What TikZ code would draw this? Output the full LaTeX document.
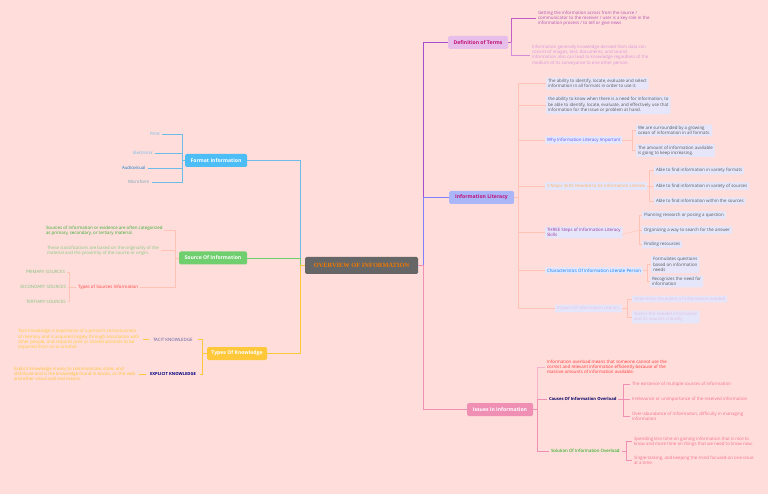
\documentclass[tikz,border=0pt]{standalone}
\usepackage{fontspec}
\setmainfont{Open Sans}
\newfontfamily\rootfont{Liberation Serif}
\definecolor{bgc}{HTML}{FFDDDA}
\definecolor{boxb}{HTML}{E6E6FA}
\definecolor{bluec}{HTML}{6DBDEB}
\definecolor{fmtc}{HTML}{4DBDF5}
\definecolor{greenc}{HTML}{6FCF6F}
\definecolor{yellowc}{HTML}{FFC83A}
\definecolor{purpc}{HTML}{C45CC8}
\definecolor{pinkc}{HTML}{F08FB4}
\definecolor{peach}{HTML}{FFC2B4}
\definecolor{crim}{HTML}{C01078}
\definecolor{litc}{HTML}{AAB6F8}
\tikzset{
 every picture/.style={x=1pt,y=-1pt},
 txt/.style={anchor=west,inner sep=0pt,outer xsep=2pt,align=left,font=\fontsize{4.4}{5.3}\selectfont},
 bx/.style={txt,fill=boxb,inner xsep=2pt,inner ysep=1.6pt,outer xsep=0pt,rounded corners=1pt},
 main/.style={anchor=center,rounded corners=1.5pt,inner sep=0pt,font=\fontsize{5.1}{6}\selectfont\bfseries,minimum height=13pt},
 thick1/.style={line width=0.8pt},
 thin1/.style={line width=0.4pt,draw=peach}
}
\begin{document}
\begin{tikzpicture}
\useasboundingbox[fill=bgc] (0,0) rectangle (768,494);
% root
\node[main,fill=black!60,text=orange!95!black,minimum width=113pt,minimum height=17pt,font=\fontsize{6.4}{7}\selectfont\rootfont\bfseries] (root) at (361.5,265.5) {OVERVIEW OF INFORMATION};
% main topics
\node[main,fill=fmtc,text=white,minimum width=62pt] (fmt) at (216,160.5) {Format Information};
\node[main,fill=greenc,text=white,minimum width=68pt] (src) at (213,258) {Source Of Information};
\node[main,fill=yellowc,text=white,minimum width=60pt] (know) at (237,353.5) {Types Of Knowledge};
\node[main,fill=purpc!40!white,text=crim,minimum width=60pt] (def) at (478,42.5) {Definition of Terms};
\node[main,fill=litc,text=crim,minimum width=65pt] (lit) at (481.5,197.5) {Information Literacy};
\node[main,fill=pinkc,text=white,minimum width=66pt] (iss) at (500,409.5) {Issues in Information};
% root connectors
\coordinate (rl) at (300,265.5);
\coordinate (rr) at (423,265.5);
\draw[thick1,draw=bluec] (rl) |- (fmt.east);
\draw[thick1,draw=greenc] (rl) |- (src.east);
\draw[thick1,draw=yellowc] (rl) |- (know.east);
\draw[thick1,draw=purpc!85!blue] (rr) |- (def.west);
\draw[thick1,draw=blue!50!white] (rr) |- (lit.west);
\draw[thick1,draw=pinkc] (rr) |- (iss.west);
\draw[thick1,draw=yellowc] (root.west) -- (rl);
\draw[thick1,draw=pinkc] (root.east) -- (rr);
% Format
\node[txt,text=bluec] (f1) at (148,134) {Print};
\node[txt,text=bluec] (f2) at (131,153) {Electronic};
\node[txt,text=cyan!60!blue] (f3) at (120,168) {Audiovisual};
\node[txt,text=bluec!60!gray] (f4) at (126,182) {Microform};
\coordinate (fb) at (182,160.5);
\draw[thick1,draw=bluec] (fmt.west) -- (fb);
\foreach \n in {f1,f2,f3,f4} \draw[thick1,draw=bluec] (fb) |- (\n.east);
% Source
\node[txt,text=green!60!black!80!white] (s1) at (44,230.5) {Sources of information or evidence are often categorized\\as primary, secondary, or tertiary material.};
\node[txt,text=green!40!gray!70!white] (s2) at (45,250.5) {These classifications are based on the originality of the\\material and the proximity of the source or origin.};
\node[txt,text=red!75!white] (s3) at (76,287) {Types of Sources Information};
\coordinate (sb) at (175,258);
\draw[thin1] (src.west) -- (sb);
\foreach \n in {s1,s2,s3} \draw[thin1] (sb) |- (\n.east);
\node[txt,text=green!35!gray!75!white] (p1) at (24,272) {PRIMARY SOURCES};
\node[txt,text=green!35!gray!75!white] (p2) at (18,287) {SECONDARY SOURCES};
\node[txt,text=green!35!gray!75!white] (p3) at (24,301.5) {TERTIARY SOURCES};
\coordinate (tb) at (69,287);
\draw[thin1] (s3.west) -- (tb);
\foreach \n in {p1,p2,p3} \draw[thin1] (tb) |- (\n.east);
% Knowledge
\node[txt,text=blue!30!gray] (k1) at (151,339.5) {TACIT KNOWLEDGE};
\node[txt,text=blue!50!black,font=\fontsize{4.2}{5.3}\selectfont\bfseries] (k2) at (148,374) {EXPLICIT KNOWLEDGE};
\coordinate (kb) at (202,353.5);
\draw[thick1,draw=yellowc] (know.west) -- (kb);
\draw[thick1,draw=yellowc] (kb) |- ([xshift=4pt]k1.east);
\draw[thick1,draw=yellowc] (kb) |- ([xshift=2pt]k2.east);
\node[txt,text=yellowc] (k1t) at (16,339.5) {Tacit knowledge is experience of a person's consciousness\\of memory and is acquired largely through association with\\other people, and requires joint or shared activities to be\\imparted from on to another.};
\node[txt,text=yellowc!90!orange] (k2t) at (12,374) {Explicit knowledge is easy to communicate, store, and\\distribute and is the knowledge found in books, on the web\\and other visual and oral means.};
\draw[thick1,draw=yellowc] ([xshift=2pt]k1t.east) -- ([xshift=-2pt]k1.west);
\draw[thick1,draw=yellowc] ([xshift=2pt]k2t.east) -- ([xshift=-2pt]k2.west);
% Definition
\node[txt,text=purpc!90!black] (d1) at (536,18.5) {Getting the information across from the source /\\communicator to the receiver / user is a key role in the\\information process / to tell or give news};
\node[txt,text=purpc!65!white] (d2) at (530,55) {Information generally knowledge derived from data can\\consist of images, text, documents, and sound.\\Information also can lead to knowledge regardless of the\\medium of its conveyance to one other person.};
\coordinate (db) at (511,42.5);
\draw[thick1,draw=purpc] (def.east) -- (db);
\draw[thick1,draw=purpc] (db) |- (d1.west);
\draw[thick1,draw=purpc!70!white] (db) |- (d2.west);
% Literacy
\node[bx,text=black!65] (l1) at (546,83.5) {The ability to identify, locate, evaluate and select\\information in all formats in order to use it.};
\node[bx,text=black!65] (l2) at (546,105) {the ability to know when there is a need for information, to\\be able to identify, locate, evaluate, and effectively use that\\information for the issue or problem at hand.};
\node[bx,text=blue!65!white] (l3) at (545,140) {Why Information Literacy Important};
\node[bx,text=orange!60!white] (l4) at (545,186) {3 Major Skills Needed to be Information Literate};
\node[bx,text=violet!80!white] (l5) at (545,232.5) {THREE Steps of Information Literacy\\Skills};
\node[bx,text=blue!50!cyan,fill=boxb] (l6) at (545,270.5) {Characteristics Of Information Literate Person};
\node[bx,text=violet!25!white] (l7) at (555,308.5) {Impact Of Information Literacy};
\coordinate (lb) at (518,197.5);
\draw[thin1] (lit.east) -- (lb);
\foreach \n in {l1,l2,l3,l4,l5,l6,l7} \draw[thin1] (lb) |- (\n.west);
% why
\node[bx,text=black!65] (a1) at (636,130.5) {We are surrounded by a growing\\ocean of information in all formats.};
\node[bx,text=black!65] (a2) at (636,150.5) {The amount of information available\\is going to keep increasing.};
\coordinate (ab) at (632,140);
\draw[thin1] (l3.east) -- (ab);
\foreach \n in {a1,a2} \draw[thin1] (ab) |- (\n.west);
% skills
\node[bx,text=black!65] (b1) at (654,170.5) {Able to find information in variety formats};
\node[bx,text=black!65] (b2) at (654,186) {Able to find information in variety of sources};
\node[bx,text=black!65] (b3) at (654,201) {Able to find information within the sources};
\coordinate (bb) at (649,186);
\draw[thin1] (l4.east) -- (bb);
\foreach \n in {b1,b2,b3} \draw[thin1] (bb) |- (\n.west);
% steps
\node[bx,text=black!65] (c1) at (642,215) {Planning research or posing a question};
\node[bx,text=black!65] (c2) at (642,230) {Organizing a way to search for the answer};
\node[bx,text=black!65] (c3) at (642,244.5) {Finding resources};
\coordinate (cb) at (639,230);
\draw[thin1] ([yshift=-2pt]l5.east) -- (cb);
\foreach \n in {c1,c2,c3} \draw[thin1] (cb) |- (\n.west);
% characteristics
\node[bx,text=black!65] (e1) at (651,264.5) {Formulates questions\\based on information\\needs};
\node[bx,text=black!65] (e2) at (650,281.5) {Recognizes the need for\\information};
\coordinate (eb) at (647,270.5);
\draw[thin1] (l6.east) -- (eb);
\foreach \n in {e1,e2} \draw[thin1] (eb) |- (\n.west);
% impact
\node[bx,text=violet!25!white] (g1) at (632,299) {Determine the extent of information needed};
\node[bx,text=violet!25!white] (g2) at (632,317) {Access the needed information\\and its sources critically};
\coordinate (gb) at (627,308.5);
\draw[thin1] (l7.east) -- (gb);
\foreach \n in {g1,g2} \draw[thin1] (gb) |- (\n.west);
% Issues
\node[txt,text=red!70!pink] (i1) at (545,367) {Information overload means that someone cannot use the\\correct and relevant information efficiently because of the\\massive amounts of information available.};
\node[txt,text=blue!40!black,font=\fontsize{4.2}{5.3}\selectfont\bfseries] (i2) at (547,399) {Causes Of Information Overload};
\node[txt,text=green!65!black] (i3) at (549,451) {Solution Of Information Overload};
\coordinate (ib) at (537,409.5);
\draw[thick1,draw=pinkc] (iss.east) -- (ib);
\draw[line width=0.4pt,draw=pinkc!70!white] (ib) |- (i1.west);
\draw[thick1,draw=pinkc] (ib) |- (i2.west);
\draw[thick1,draw=pinkc] (ib) |- (i3.west);
\node[txt,text=pinkc!80!red] (m1) at (630,384) {The existence of multiple sources of information};
\node[txt,text=pinkc!80!red] (m2) at (630,399) {Irrelevance or unimportance of the received information};
\node[txt,text=pinkc!80!red] (m3) at (630,416.5) {Over-abundance of information, difficulty in managing\\information};
\coordinate (mb) at (623,399);
\draw[thick1,draw=pinkc] (i2.east) -- (mb);
\foreach \n in {m1,m2,m3} \draw[thick1,draw=pinkc] (mb) |- (\n.west);
\node[txt,text=pinkc!80!red] (n1) at (632,441.5) {Spending less time on gaining information that is nice to\\know and more time on things that we need to know now.};
\node[txt,text=pinkc!80!red] (n2) at (632,460.5) {Single-tasking, and keeping the mind focused on one issue\\at a time.};
\coordinate (nb) at (626,451);
\draw[thick1,draw=pinkc] (i3.east) -- (nb);
\foreach \n in {n1,n2} \draw[thick1,draw=pinkc] (nb) |- (\n.west);
\end{tikzpicture}
\end{document}
